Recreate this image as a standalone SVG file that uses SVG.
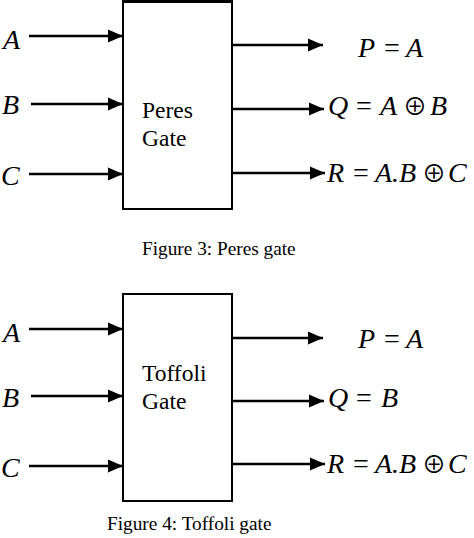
<svg xmlns="http://www.w3.org/2000/svg" width="474" height="538" viewBox="0 0 474 538">
<style>
.box{fill:#fff;stroke:#000;stroke-width:2}
.wire{stroke:#000;stroke-width:2.6;fill:none}
.var{font-family:"Liberation Serif","Times New Roman",serif;font-style:italic;font-size:28px;fill:#000}
.op{font-family:"Liberation Serif","DejaVu Serif",serif;font-style:normal}
.xor{font-family:"Noto Sans CJK JP","DejaVu Sans",sans-serif;font-style:normal;font-size:24px}
.name{font-family:"Liberation Serif","Times New Roman",serif;font-size:23.5px;fill:#000}
.cap{font-family:"Liberation Serif","Times New Roman",serif;font-size:19.3px;fill:#000}
</style>
<defs>
<marker id="ah" markerUnits="userSpaceOnUse" markerWidth="16" markerHeight="14" refX="15" refY="7" orient="auto">
<path d="M0,0.5 L15,7 L0,13.5 Z" fill="#000"/>
</marker>
</defs>

<g id="peres">
<rect class="box" x="123" y="1" width="109" height="208"/>
<line x1="122" y1="1.5" x2="233" y2="1.5" stroke="#000" stroke-width="3"/>
<text class="name" x="142" y="118">Peres</text>
<text class="name" x="142" y="146">Gate</text>
</g>
<g id="peres-in">
<text class="var" x="3" y="49">A</text>
<text class="var" x="2" y="114">B</text>
<text class="var" x="1" y="185">C</text>
</g>
<g id="peres-out">
<text class="var" y="57"><tspan x="358">P</tspan><tspan class="op" x="384">=</tspan><tspan x="406">A</tspan></text>
<text class="var" y="115"><tspan x="328">Q</tspan><tspan class="op" x="356">=</tspan><tspan x="380">A</tspan><tspan class="xor" x="403">⊕</tspan><tspan x="430">B</tspan></text>
<text class="var" y="182"><tspan x="327">R</tspan><tspan class="op" x="353">=</tspan><tspan x="375">A.B</tspan><tspan class="xor" x="422">⊕</tspan><tspan x="448">C</tspan></text>
</g>
<text class="cap" x="142" y="255">Figure 3: Peres gate</text>

<g id="toffoli">
<rect class="box" x="123" y="294" width="109" height="207"/>
<text class="name" x="142" y="381">Toffoli</text>
<text class="name" x="142" y="409">Gate</text>
</g>
<g id="toffoli-in">
<text class="var" x="3" y="342">A</text>
<text class="var" x="2" y="407">B</text>
<text class="var" x="1" y="477">C</text>
</g>
<g id="toffoli-out">
<text class="var" y="348"><tspan x="358">P</tspan><tspan class="op" x="384">=</tspan><tspan x="406">A</tspan></text>
<text class="var" y="407"><tspan x="328">Q</tspan><tspan class="op" x="356">=</tspan><tspan x="381">B</tspan></text>
<text class="var" y="473"><tspan x="327">R</tspan><tspan class="op" x="353">=</tspan><tspan x="375">A.B</tspan><tspan class="xor" x="422">⊕</tspan><tspan x="448">C</tspan></text>
</g>
<text class="cap" x="107" y="530">Figure 4: Toffoli gate</text>

<g id="connectors">
<line class="wire" x1="29" y1="36" x2="123" y2="36" marker-end="url(#ah)"/>
<line class="wire" x1="31" y1="104" x2="123" y2="104" marker-end="url(#ah)"/>
<line class="wire" x1="29" y1="174" x2="123" y2="174" marker-end="url(#ah)"/>
<line class="wire" x1="232" y1="45" x2="323" y2="45" marker-end="url(#ah)"/>
<line class="wire" x1="232" y1="109" x2="324" y2="109" marker-end="url(#ah)"/>
<line class="wire" x1="232" y1="173" x2="325" y2="173" marker-end="url(#ah)"/>
<line class="wire" x1="29" y1="329" x2="123" y2="329" marker-end="url(#ah)"/>
<line class="wire" x1="31" y1="396" x2="123" y2="396" marker-end="url(#ah)"/>
<line class="wire" x1="29" y1="466" x2="123" y2="466" marker-end="url(#ah)"/>
<line class="wire" x1="232" y1="338" x2="323" y2="338" marker-end="url(#ah)"/>
<line class="wire" x1="232" y1="401" x2="324" y2="401" marker-end="url(#ah)"/>
<line class="wire" x1="232" y1="464" x2="325" y2="464" marker-end="url(#ah)"/>
</g>
</svg>
